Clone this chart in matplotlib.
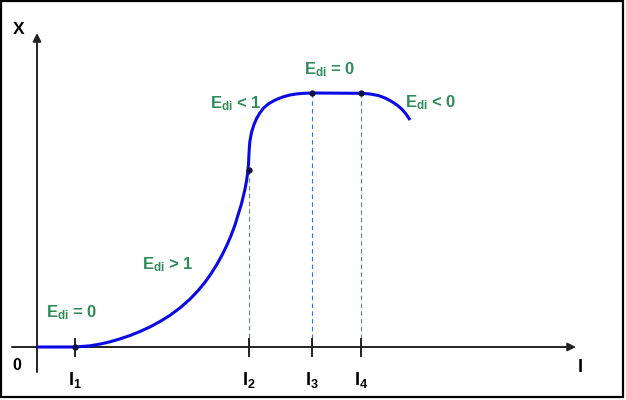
import numpy as np
import matplotlib.pyplot as plt
from matplotlib.patches import Rectangle

plt.rcParams['font.family'] = ['Liberation Sans', 'DejaVu Sans']
plt.rcParams['mathtext.fontset'] = 'custom'
plt.rcParams['mathtext.bf'] = 'Liberation Sans:bold'
plt.rcParams['mathtext.rm'] = 'Liberation Sans'
plt.rcParams['mathtext.default'] = 'bf'

# curve (pixel space, y grows downward)
curve_x = [37, 75, 90, 100, 110, 120, 130, 140, 150, 160, 170, 180, 190, 198, 205, 211,
           217, 222, 227, 231, 235, 238, 241, 243, 245, 246.5, 247.7, 248.4,
           248.8, 249.2, 249.8, 250.8, 251.7, 254, 256.7, 259.8, 263.3, 268, 273.3, 278,
           283.3, 290, 296.7, 304, 311.7, 361.7, 370, 378.3, 385, 391.7, 397, 401.7, 406, 410]
curve_y = [347, 347, 345.8, 344.1, 341.8, 338.9, 335.5, 331.5, 326.9, 321.5, 315.3, 307.9,
           299.1, 290.7, 282.2, 273.8, 264.2, 255.2, 245, 235.6, 225, 215, 205.5, 197.6,
           189.2, 181, 172.5, 165.5,
           158, 150, 142, 136, 131.7, 124.5, 118.3, 113, 108.3, 104.2, 101, 98.8,
           96.8, 95, 93.9, 93.3, 93, 93.3, 94, 95.5, 98, 101.5, 105, 109, 114, 120]

# marked points and the dashed guides
mark_x = [75, 249, 312, 361]
mark_y = [347, 170, 93, 93]
tick_labels = ['I$_1$', 'I$_2$', 'I$_3$', 'I$_4$']
guide_x = [249, 312, 361]
guide_top = [170, 93, 93]
guide_colors = ['#6678a8', '#2f6fff', '#6678a8']

# region labels
region_texts = ['E$_{di}$ = 0', 'E$_{di}$ > 1', 'E$_{di}$ < 1', 'E$_{di}$ = 0', 'E$_{di}$ < 0']
region_x = [72, 168, 236, 330, 431]
region_y = [313, 265, 104, 70, 103]

fig = plt.figure(figsize=(6.26, 4.0), dpi=100)
ax = fig.add_axes([0, 0, 1, 1])
ax.set_xlim(0, 626)
ax.set_ylim(400, 0)
ax.axis('off')

# frame
ax.add_patch(Rectangle((1, 1), 622, 396, fill=False, edgecolor='black', lw=1.6))

# axes with arrows
ax.annotate('', xy=(576, 347), xytext=(12, 347),
            arrowprops=dict(arrowstyle='-|>', color='#222222', lw=1.4, mutation_scale=12,
                            shrinkA=0, shrinkB=0))
ax.annotate('', xy=(37, 33), xytext=(37, 372),
            arrowprops=dict(arrowstyle='-|>', color='#222222', lw=1.4, mutation_scale=12,
                            shrinkA=0, shrinkB=0))

# dashed guides
for gx, gt, gc in zip(guide_x, guide_top, guide_colors):
    ax.plot([gx, gx], [gt, 347], ls=(0, (4, 3)), color=gc, lw=0.8, zorder=1)

# tick marks on the x axis
for mx in mark_x:
    ax.plot([mx, mx], [339, 356], color='#111111', lw=1.3, zorder=2)

ax.plot(curve_x, curve_y, color='#0a0ae6', lw=2.2, solid_capstyle='butt',
        solid_joinstyle='round', zorder=3)
ax.plot(mark_x, mark_y, 'o', color='#101040', ms=3.5, zorder=4)

for lbl, mx in zip(tick_labels, mark_x):
    ax.text(mx, 380, lbl, ha='center', va='center', fontsize=13, fontweight='bold')

for t, tx, ty in zip(region_texts, region_x, region_y):
    ax.text(tx, ty, t, ha='center', va='center', fontsize=12, fontweight='bold',
            color='#2e8b57')

ax.text(19, 29, 'X', ha='center', va='center', fontsize=12.5, fontweight='bold')
ax.text(580, 368, 'I', ha='center', va='center', fontsize=13, fontweight='bold')
ax.text(17, 365, '0', ha='center', va='center', fontsize=11.5, fontweight='bold')

plt.savefig('out.png', dpi=100)
